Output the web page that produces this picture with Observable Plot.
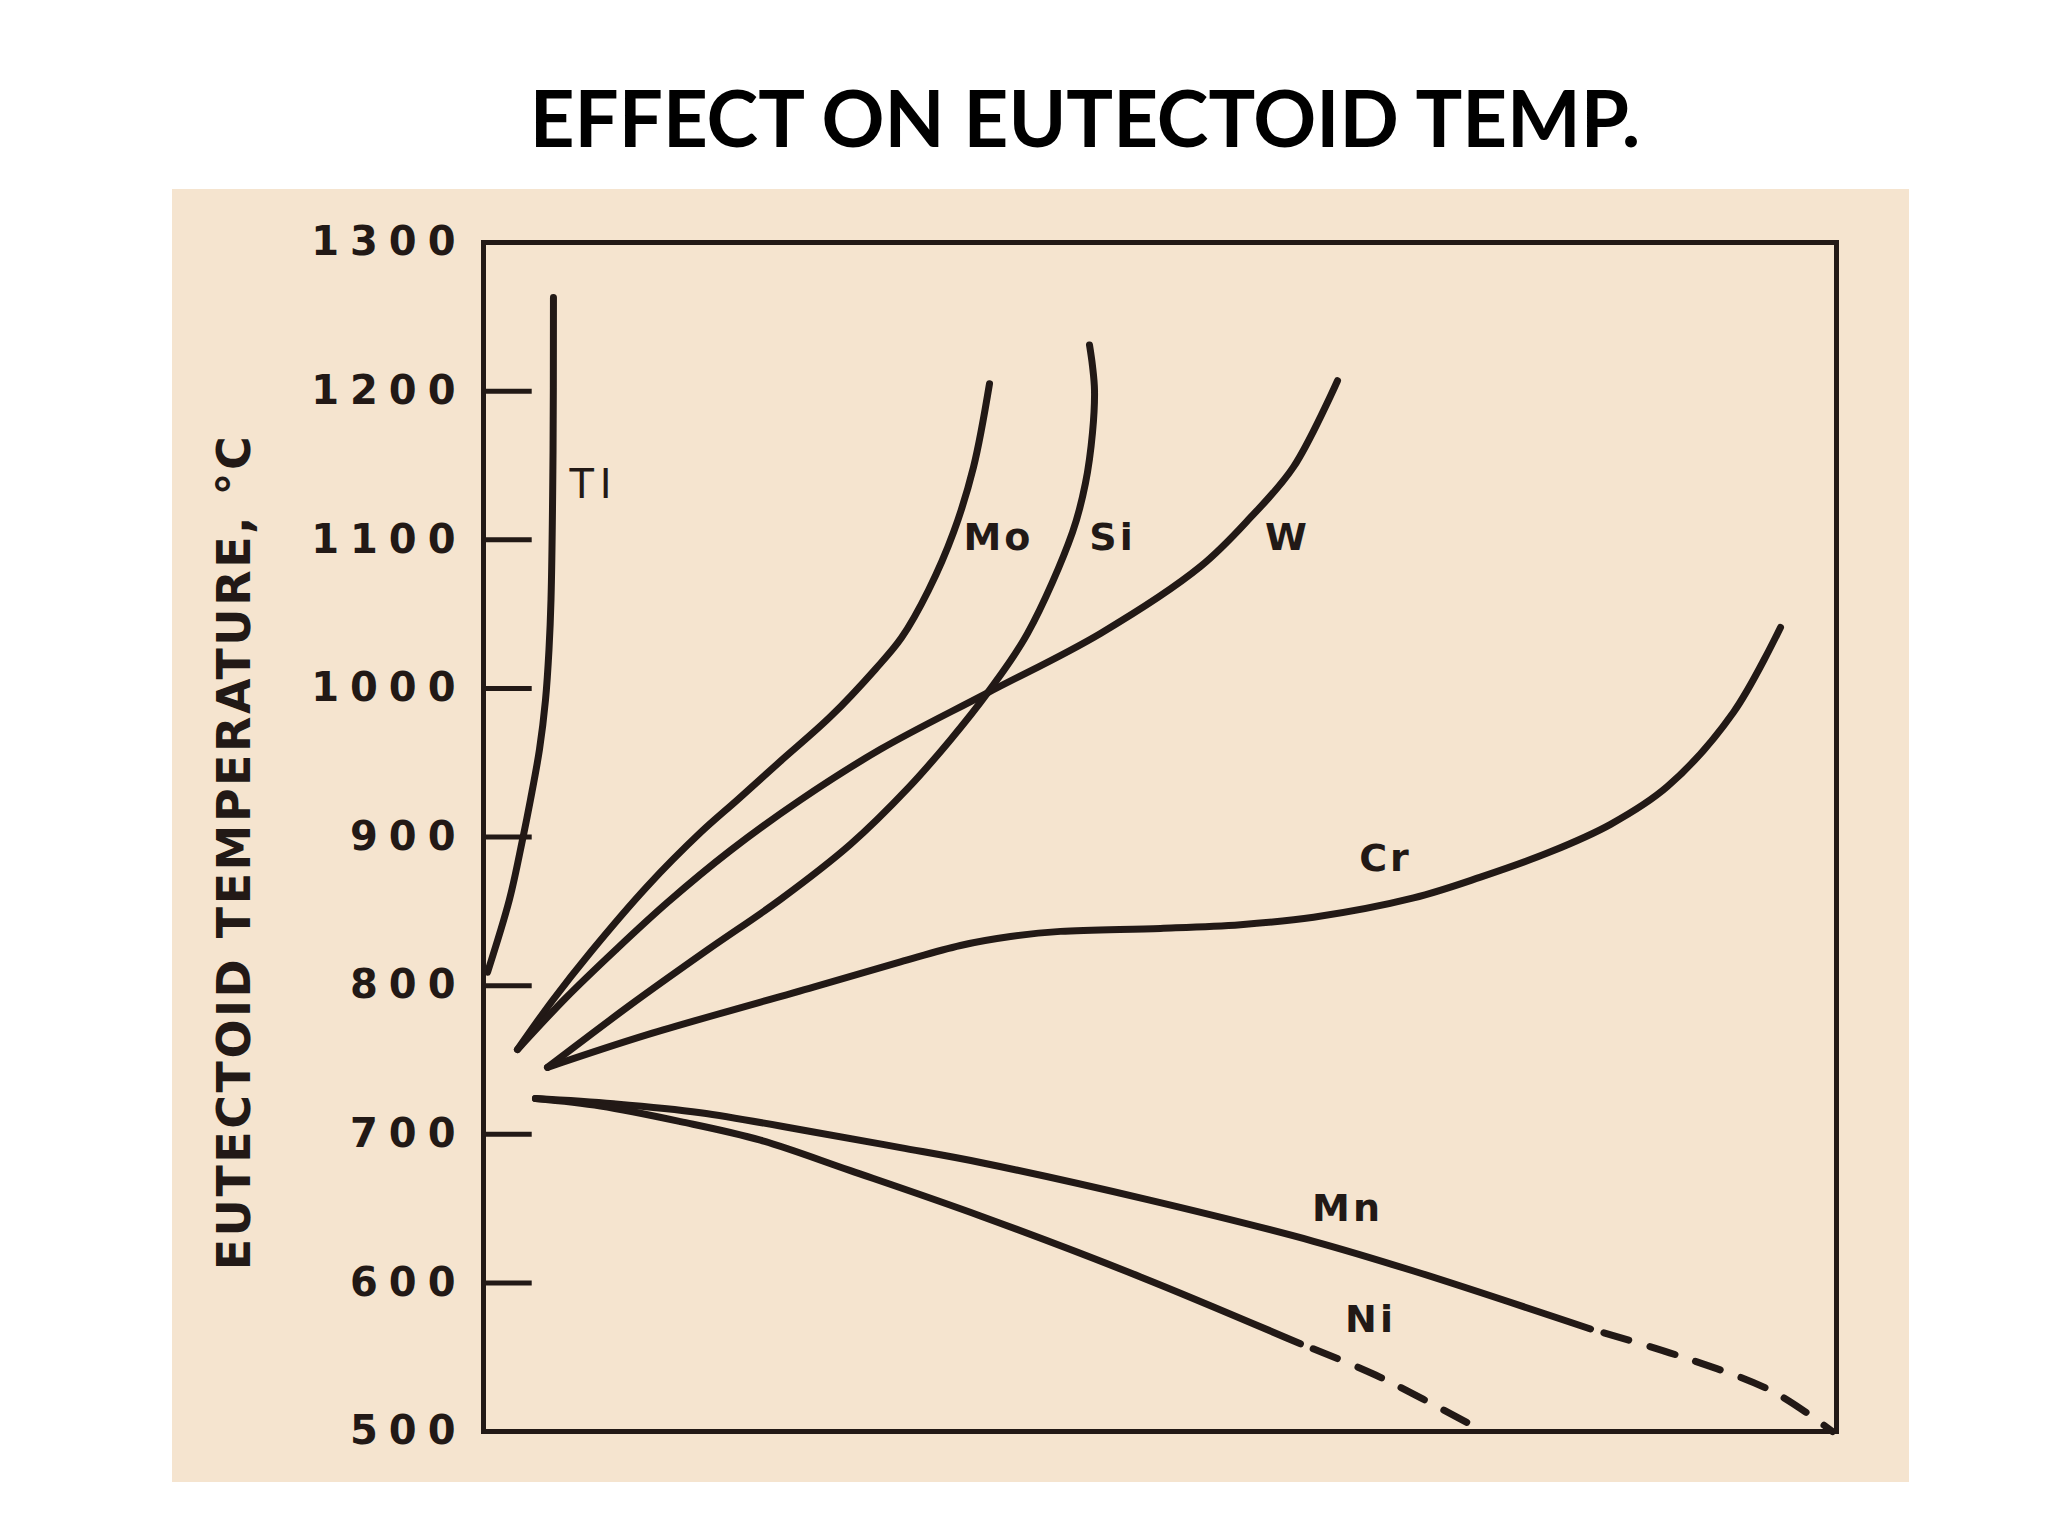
<!DOCTYPE html>
<html>
<head>
<meta charset="utf-8">
<script src="https://cdn.jsdelivr.net/npm/d3@7"></script>
<script src="https://cdn.jsdelivr.net/npm/@observablehq/plot@0.6"></script>
<style>
  html, body { margin: 0; padding: 0; background: #ffffff; width: 2048px; height: 1536px; overflow: hidden; }
  #title {
    position: absolute; left: 0; top: 71px; width: 2048px; padding-left: 122px; box-sizing: border-box;
    text-align: center; font-family: Lato, "Open Sans", sans-serif; font-weight: bold; font-size: 78px;
    line-height: 1.2; color: #000;
  }
  #chart { position: absolute; left: 172px; top: 189px; }
  #chart g[aria-label="y-axis tick label"] text { letter-spacing: 11px; }
</style>
</head>
<body>
<div id="title">EFFECT ON EUTECTOID TEMP.</div>
<div id="chart"></div>
<script>
// ---- data: [alloy amount (arbitrary units, 0-100 across the frame), eutectoid temperature °C]
const yTicks = [500, 600, 700, 800, 900, 1000, 1100, 1200, 1300];
const yLabel = "EUTECTOID TEMPERATURE, °C";

const ti = [[0.3, 809], [1.92, 858], [2.88, 898], [3.47, 925], [4.14, 959], [4.58, 992], [4.84, 1026], [4.99, 1060], [5.14, 1160], [5.17, 1263]];
const mo = [[2.51, 757], [5.1, 790], [7.91, 822.5], [12.12, 867], [16.04, 903], [18.77, 925], [21.95, 951], [25.65, 981], [28.97, 1013], [30.89, 1034], [32.89, 1066], [34.74, 1105], [36.22, 1149], [37.4, 1205]];
const w  = [[2.51, 757], [6.06, 791.5], [9.76, 824], [13.6, 856], [18.26, 891], [23.43, 925], [29.34, 959], [37.25, 997], [45.6, 1037], [52.99, 1082], [56.69, 1115], [59.87, 1149], [63.12, 1207]];
const si = [[4.73, 745], [10.86, 787], [16.56, 824], [21.95, 858], [27.12, 895], [31.34, 932.5], [34.52, 965.5], [37.25, 997], [40.21, 1037], [43.53, 1105], [44.49, 1138], [45.01, 1172], [45.16, 1200.5], [45.01, 1217], [44.79, 1231]];
const cr = [[4.73, 745], [12.12, 767], [24.39, 799], [30.82, 816], [35.25, 827], [38.95, 833], [42.65, 836.5], [50.04, 838.5], [55.95, 841], [61.35, 846], [68.74, 859], [73.69, 873], [78.86, 890], [83.3, 908.5], [87.51, 934], [92.39, 984], [95.86, 1041]];
const mn = [[3.84, 724], [9.61, 720.5], [16.04, 714.5], [24.39, 701.5], [30.82, 691], [36.73, 681], [49.08, 656], [61.35, 628], [68.74, 608], [81.82, 569]];
const mnDashed = [[81.82, 569], [88.32, 551], [95.27, 527], [99.7, 500]];
const ni = [[3.84, 724], [8.65, 719], [14.56, 708.5], [20.47, 696], [27.12, 675.5], [36.73, 645], [48.56, 604], [60.38, 559]];
const niDashed = [[60.38, 559], [65.93, 538], [73.91, 500]];

const labelNames = ["Mo", "Si", "W", "Cr", "Mn", "Ni"];
const labelX = [38.06, 46.49, 59.42, 66.67, 63.86, 65.56];
const labelT = [1101, 1101, 1101, 885, 650, 575];
const tiLabel = [{name: "TI", x: 8.13, t: 1137}];

// ---- build
const labels = labelNames.map((n, i) => ({name: n, x: labelX[i], t: labelT[i]}));
const solidSeries = [ti, mo, w, si, cr, mn, ni];
const dashedSeries = [mnDashed, niDashed];
const ink = "#221916";
const fx = d => d[0], fy = d => d[1];

const lineMarks = solidSeries.map(s => Plot.line(s, {
  x: fx, y: fy, curve: "catmull-rom", stroke: ink, strokeWidth: 7, strokeLinecap: "round", strokeLinejoin: "round"
}));
const dashMarks = dashedSeries.map(s => Plot.line(s, {
  x: fx, y: fy, curve: "catmull-rom", stroke: ink, strokeWidth: 7, strokeLinecap: "round", strokeDasharray: "26,22", strokeDashoffset: -14
}));

const chart = Plot.plot({
  width: 1737,
  height: 1293,
  marginLeft: 311,
  marginTop: 53,
  marginRight: 73,
  marginBottom: 51,
  style: {background: "#f5e4cf", color: ink, fontFamily: "DejaVu Sans"},
  x: {domain: [0, 100], axis: null},
  y: {domain: [500, 1300], axis: null},
  marks: [
    Plot.ruleY(yTicks.filter(d => d > 500 && d < 1300), {x1: 0, x2: 3.6, stroke: ink, strokeWidth: 5}),
    Plot.axisY({ticks: yTicks, tickSize: 0, tickPadding: 17, fontSize: 40, fontWeight: "bold", fontFamily: "DejaVu Sans", tickFormat: d => `${d}`, label: null}),
    Plot.text([yLabel], {frameAnchor: "left", textAnchor: "middle", lineAnchor: "middle", dx: -248, dy: 15, rotate: -90, fontSize: 46, fontWeight: "bold", fontFamily: "DejaVu Sans", fill: ink}),
    ...lineMarks,
    ...dashMarks,
    Plot.text(labels, {x: "x", y: "t", text: "name", fontSize: 38, fontWeight: "bold", fontFamily: "DejaVu Sans", fill: ink}),
    Plot.text(tiLabel, {x: "x", y: "t", text: "name", fontSize: 40, fontWeight: "normal", fontFamily: "DejaVu Sans", fill: ink}),
    Plot.frame({stroke: ink, strokeWidth: 5})
  ]
});

// letter spacing like the hand-lettered original
d3.select(chart).selectAll("text").each(function () {
  const t = this.textContent;
  if (t === yLabel) this.style.letterSpacing = "2.5px";
  else if (labelNames.includes(t)) this.style.letterSpacing = "3px";
  else if (t === "TI") this.style.letterSpacing = "6px";
});
document.getElementById("chart").appendChild(chart);
</script>
</body>
</html>
